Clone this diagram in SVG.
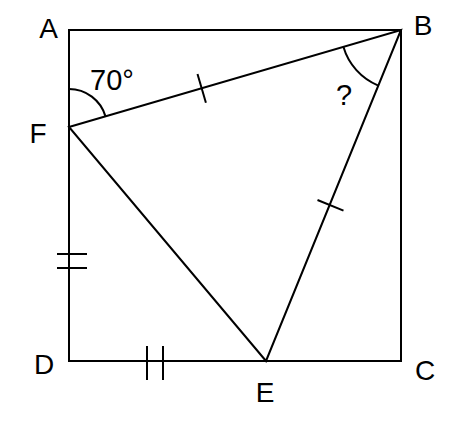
<svg xmlns="http://www.w3.org/2000/svg" width="455" height="424" viewBox="0 0 455 424">
<style>
.l{stroke:#000;stroke-width:2;fill:none;stroke-linecap:butt}
.t{font-family:"Liberation Sans",Arial,sans-serif;font-size:28px;fill:#000;text-anchor:middle}
.n{font-size:29px}
</style>
<rect width="455" height="424" fill="#fff"/>
<g id="connectors">
<path class="l" d="M69,30 H401 V361 H69 Z"/>
<path class="l" d="M69,127 L401,30 L266,361 Z"/>
<path class="l" d="M69,89 A38,38 0 0 1 105.5,116.4"/>
<path class="l" d="M343.4,46.8 A60,60 0 0 0 378.3,85.6"/>
<path class="l" d="M197.5,74 L205.9,102.7"/>
<path class="l" d="M317.5,200 L343.5,210.6"/>
<path class="l" d="M57,254 H87 M57,268 H87"/>
<path class="l" d="M147,346 V380 M163,346 V380"/>
</g>
<g id="labels">
<text class="t" x="48.5" y="38">A</text>
<text class="t" x="423" y="35">B</text>
<text class="t" x="38" y="143">F</text>
<text class="t" x="44" y="374">D</text>
<text class="t" x="425" y="380">C</text>
<text class="t" x="265" y="402">E</text>
<text class="t n" x="112" y="90">70°</text>
<text class="t n" x="344" y="105">?</text>
</g>
</svg>
